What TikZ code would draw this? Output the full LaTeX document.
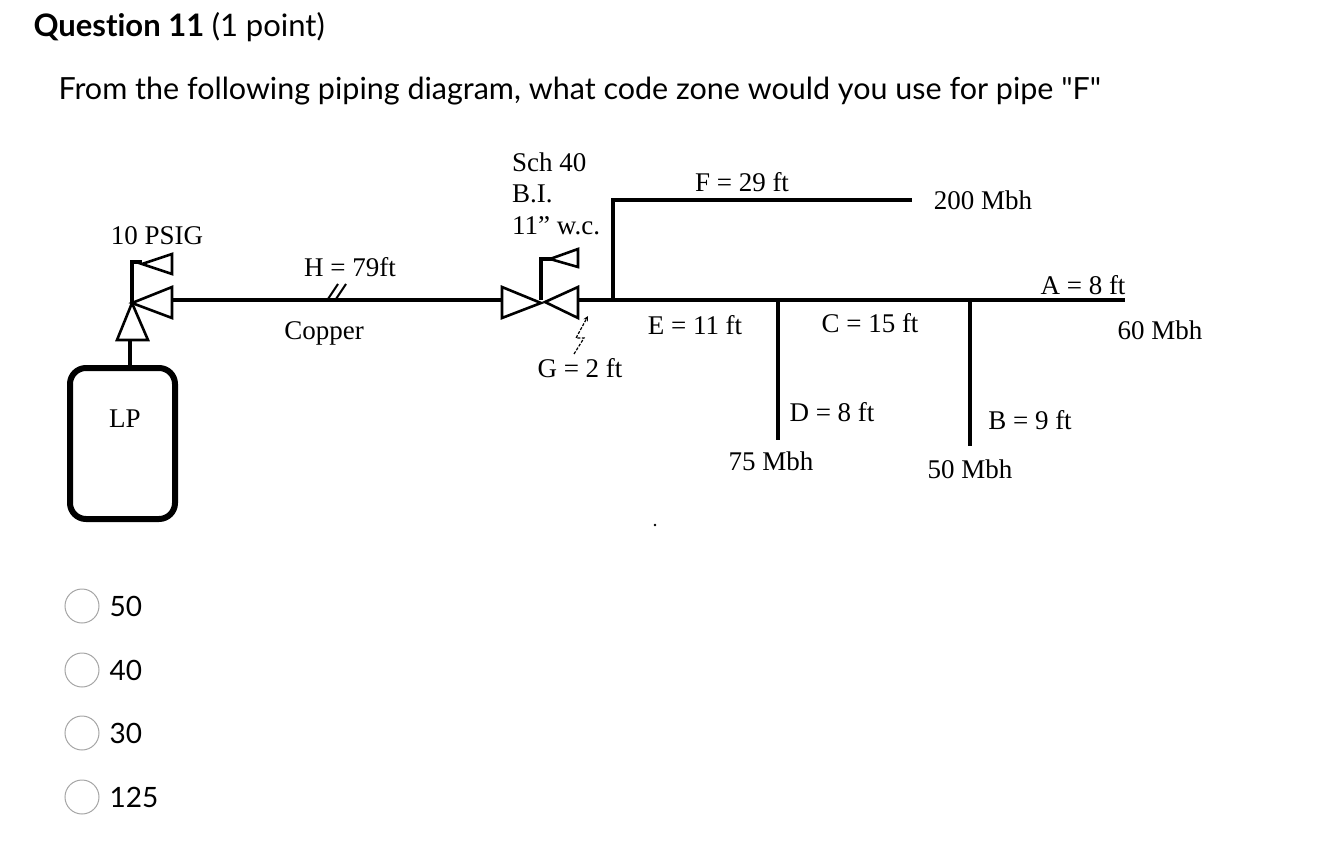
\documentclass[tikz,border=0pt]{standalone}
\usepackage{fontspec}
\setmainfont{Liberation Serif}[Ligatures=ResetAll]
\newfontfamily\lato[Ligatures={NoCommon}]{Lato}
\begin{document}
\begin{tikzpicture}[x=1pt,y=-1pt,
  pipe/.style={line width=3.2pt},
  sym/.style={line width=2.6pt,fill=white,line join=miter},
  lbl/.style={font=\fontsize{27}{30}\selectfont,inner sep=0pt},
  opt/.style={draw=gray!70,line width=1pt,fill=white,circle,minimum size=34pt,inner sep=0pt}]
\useasboundingbox (0,0) rectangle (1328,856);
\node[font=\lato\bfseries\fontsize{31}{34}\selectfont,anchor=west] (t) at (30,27) {Question 11 \textmd{(1 point)}};
\node[font=\lato\fontsize{30.5}{34}\selectfont,anchor=west] (q) at (55,91) {From the following piping diagram, what code zone would you use for pipe {\symbol{34}}F{\symbol{34}}};
% tank
\draw[line width=6pt,rounded corners=16pt] (70,368) rectangle (175,519);
\node[lbl] (lp) at (125,419) {LP};
\coordinate (tanktop) at (130,368);
\coordinate (r1) at (132,303);
\draw[pipe] (tanktop) -- (130,340);
\draw[sym] (r1) -- (148,340) -- (117,340) -- cycle;
\draw[pipe] (r1) -- (132,262) -- (142,262);
\draw[sym] (142,264) -- (172,254) -- (172,274) -- cycle;
\draw[sym] (r1) -- (172,287) -- (172,318) -- cycle;
\coordinate (p1) at (172,300);
\coordinate (p2) at (502,300);
\draw[pipe] (p1) -- (p2);
\node[lbl] at (157,236) {10 PSIG};
\node[lbl] at (350,267) {H = 79ft};
\draw[line width=2pt] (328,299) -- (338,284) (336,299) -- (346,284);
\node[lbl] at (324,333) {Copper};
% second regulator
\coordinate (r2) at (541,303);
\draw[sym] (502,287) -- (r2) -- (502,318) -- cycle;
\draw[sym] (545,302) -- (578,287) -- (578,318) -- cycle;
\draw[pipe] (541,300) -- (541,259) -- (552,259);
\draw[sym] (550,259) -- (578,249) -- (578,267) -- cycle;
\coordinate (p3) at (578,300);
\coordinate (jF) at (613,300);
\coordinate (jD) at (778,300);
\coordinate (jB) at (970,300);
\coordinate (pA) at (1125,300);
\draw[pipe] (p3) -- (pA);
\draw[pipe] (jF) -- (613,200) -- (912,200);
\draw[pipe] (jD) -- (778,440);
\draw[pipe] (jB) -- (970,446);
\draw[line width=1.2pt,-stealth,dash pattern=on 3pt off 1.5pt] (574,354) -- (584,338) -- (576,338) -- (588,316);
\node[lbl,anchor=west] at (512,162) {Sch 40};
\node[lbl,anchor=west] at (512,194) {B.I.};
\node[lbl,anchor=west] at (512,226) {11{\symbol{34}} w.c.};
\node[lbl] at (742,182) {F = 29 ft};
\node[lbl] at (983,200) {200 Mbh};
\node[lbl] at (695,325) {E = 11 ft};
\node[lbl] at (870,323) {C = 15 ft};
\node[lbl] at (1083,285) {A = 8 ft};
\node[lbl] at (1160,330) {60 Mbh};
\node[lbl] at (832,412) {D = 8 ft};
\node[lbl] at (771,461) {75 Mbh};
\node[lbl] at (1030,420) {B = 9 ft};
\node[lbl] at (970,469) {50 Mbh};
\node[lbl] at (580,368) {G = 2 ft};
\fill (655,525) circle (1.3pt);
% options
\foreach \y/\t [count=\i] in {606/50,670/40,733/30,797/125}{
  \node[opt] (o\i) at (82,\y) {};
  \node[font=\lato\fontsize{28}{30}\selectfont,anchor=west] (ot\i) at (106,\y) {\t};
}
\end{tikzpicture}
\end{document}
